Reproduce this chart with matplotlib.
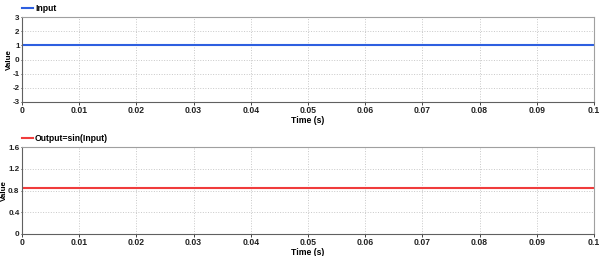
import matplotlib
matplotlib.use("Agg")
import matplotlib.pyplot as plt

# data
time_s = [0.0, 0.1]
input_vals = [1.0, 1.0]
output_vals = [0.84, 0.84]
x_ticks = [0, 0.01, 0.02, 0.03, 0.04, 0.05, 0.06, 0.07, 0.08, 0.09, 0.1]
x_labels = ["0", "0.01", "0.02", "0.03", "0.04", "0.05", "0.06", "0.07", "0.08", "0.09", "0.1"]
top_yticks = [-3, -2, -1, 0, 1, 2, 3]
bot_yticks = [0, 0.4, 0.8, 1.2, 1.6]
bot_ylabels = ["0", "0.4", "0.8", "1.2", "1.6"]

plt.rcParams["font.family"] = ["Liberation Sans", "DejaVu Sans"]
plt.rcParams["font.weight"] = "bold"

fig = plt.figure(figsize=(6.03, 2.56), dpi=100)
W, H = 603, 256
ax1 = fig.add_axes([22 / W, 1 - 102 / H, (594 - 22) / W, (102 - 17) / H])
ax2 = fig.add_axes([22 / W, 1 - 234 / H, (594 - 22) / W, (234 - 147) / H])

# last value: x offset (px) of the right edge of the rotated "Value" label
panels = [
    (ax1, input_vals, "#2e5fe0", "Input", top_yticks, [str(v) for v in top_yticks], (-3, 3), -9),
    (ax2, output_vals, "#f03c3c", "Output=sin(Input)", bot_yticks, bot_ylabels, (0, 1.6), -13.8),
]

fs = 6.2
for ax, vals, col, name, yt, yl, ylim, lab_x in panels:
    ax.plot(time_s, vals, color=col, lw=1.5, label=name)
    ax.set_xlim(0, 0.1)
    ax.set_ylim(*ylim)
    ax.set_xticks(x_ticks)
    ax.set_xticklabels(x_labels)
    ax.set_yticks(yt)
    ax.set_yticklabels(yl)
    ax.grid(True, color="#c8c8c8", ls=":", lw=0.7)
    ax.tick_params(axis="x", labelsize=fs, length=2, width=0.6, pad=1.0, colors="#222222")
    ax.tick_params(axis="y", labelsize=5.8, length=1, width=0.6, pad=0.8, colors="#222222")
    for s in ax.spines.values():
        s.set_color("#a0a0a0")
        s.set_linewidth(0.8)
    ax.spines["left"].set_color("#606060")
    ax.spines["bottom"].set_color("#606060")
    ax.set_xlabel("Time (s)", fontsize=fs, fontweight="bold", labelpad=0.5)
    ax.set_ylabel("Value", fontsize=5.8, fontweight="bold")
    ax.yaxis.set_label_coords(lab_x / 572, 0.5)
    ax.legend(loc="lower left", bbox_to_anchor=(-0.003, 1.03), frameon=False,
              fontsize=fs, handlelength=1.3, handletextpad=0.2,
              borderpad=0.1, borderaxespad=0.1)

fig.savefig("out.png", dpi=100)
